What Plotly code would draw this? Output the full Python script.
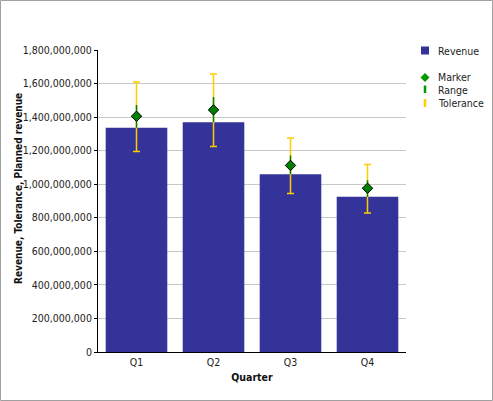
import plotly.graph_objects as go

quarters = ["Q1", "Q2", "Q3", "Q4"]
revenue = [1337e6, 1370e6, 1060e6, 925e6]
planned = [1405e6, 1443e6, 1112e6, 976e6]
range_high = [1472e6, 1520e6, 1171e6, 1024e6]
tol_high = [1609e6, 1657e6, 1276e6, 1118e6]
tol_low = [1195e6, 1225e6, 945e6, 829e6]

W, H = 493, 401
L, R, T, B = 98, 87, 50, 49
pw, ph = W - L - R, H - T - B

font = "Tahoma, DejaVu Sans Condensed, DejaVu Sans, sans-serif"
bar_col = "#333399"
green = "#008000"
yellow = "#FFCC00"

fig = go.Figure()

fig.add_trace(go.Bar(x=quarters, y=revenue, marker=dict(color=bar_col, line=dict(width=0)),
                     name="Revenue", width=0.8))

# tolerance whiskers
fig.add_trace(go.Scatter(
    x=quarters, y=planned, mode="markers", name="Tolerance",
    marker=dict(color="rgba(0,0,0,0)", size=2),
    error_y=dict(type="data", symmetric=False,
                 array=[h - p for h, p in zip(tol_high, planned)],
                 arrayminus=[p - l for p, l in zip(planned, tol_low)],
                 color=yellow, thickness=1.5, width=3.5)))

# range line from actual revenue up to range_high
fig.add_trace(go.Scatter(
    x=quarters, y=revenue, mode="markers", name="Range",
    marker=dict(color="rgba(0,0,0,0)", size=2),
    error_y=dict(type="data", symmetric=False,
                 array=[h - r for h, r in zip(range_high, revenue)],
                 arrayminus=[0] * len(revenue),
                 color=green, thickness=1.5, width=0)))

fig.add_trace(go.Scatter(
    x=quarters, y=planned, mode="markers", name="Marker",
    marker=dict(symbol="diamond", size=8, color=green, line=dict(color="black", width=1))))

# hand-built legend (plotly's own rows are too tall)
def px_x(v):
    return (v - L) / pw

def px_y(v):
    return (H - B - v) / ph

shapes = [
    dict(type="rect", xref="paper", yref="paper", x0=px_x(0.5), x1=px_x(W - 0.5),
         y0=px_y(0.5), y1=px_y(H - 0.5), line=dict(color="#A0A0A0", width=1)),
    dict(type="rect", xref="paper", yref="paper", x0=px_x(421), x1=px_x(429),
         y0=px_y(46.5), y1=px_y(54.5), fillcolor=bar_col, line=dict(width=0)),
    dict(type="path", xref="paper", yref="paper",
         path="M {a},{b} L {c},{d} L {a},{e} L {f},{d} Z".format(
             a=px_x(425), b=px_y(73), c=px_x(429.5), d=px_y(77.5), e=px_y(82), f=px_x(420.5)),
         fillcolor="#009900", line=dict(width=0)),
    dict(type="line", xref="paper", yref="paper", x0=px_x(425), x1=px_x(425),
         y0=px_y(85.5), y1=px_y(93), line=dict(color="#009900", width=2.5)),
    dict(type="line", xref="paper", yref="paper", x0=px_x(425), x1=px_x(425),
         y0=px_y(99), y1=px_y(107), line=dict(color=yellow, width=2.5)),
]

legend_items = [("Revenue", 51), ("Marker", 77.5), ("Range", 90), ("Tolerance", 103)]
annotations = [dict(text=t, xref="paper", yref="paper", x=px_x(436), y=px_y(yy),
                    xanchor="left", yanchor="middle", showarrow=False,
                    font=dict(family=font, size=10.5, color="#222"))
               for t, yy in legend_items]
# y axis title placed by hand
annotations.append(dict(text="<b>Revenue, Tolerance, Planned revenue</b>", textangle=-90,
                        xref="paper", yref="paper", x=px_x(18), y=px_y(189),
                        xanchor="center", yanchor="middle", showarrow=False,
                        font=dict(family=font, size=10, color="#111")))

fig.update_layout(
    width=W, height=H, margin=dict(l=L, r=R, t=T, b=B, autoexpand=False),
    paper_bgcolor="white", plot_bgcolor="white",
    showlegend=False, bargap=0.2,
    font=dict(family=font, size=10.5, color="#222"),
    shapes=shapes, annotations=annotations,
    xaxis=dict(title=dict(text="<b>Quarter</b>", standoff=7, font=dict(size=10.5, color="#111")),
               showline=True, linecolor="black", linewidth=1, ticks="",
               showgrid=False, range=[-0.5, 3.5], automargin=False),
    yaxis=dict(range=[0, 1.8e9], dtick=2e8, tickformat=",d",
               showline=True, linecolor="black", linewidth=1,
               ticks="outside", ticklen=3, tickcolor="black",
               gridcolor="#C8C8C8", zeroline=False, automargin=False),
)

# drop the browser's default body margin so the chart sits at the page corner
fig.write_html("out.html", config={"displayModeBar": False},
               post_script="document.body.style.margin='0';")
